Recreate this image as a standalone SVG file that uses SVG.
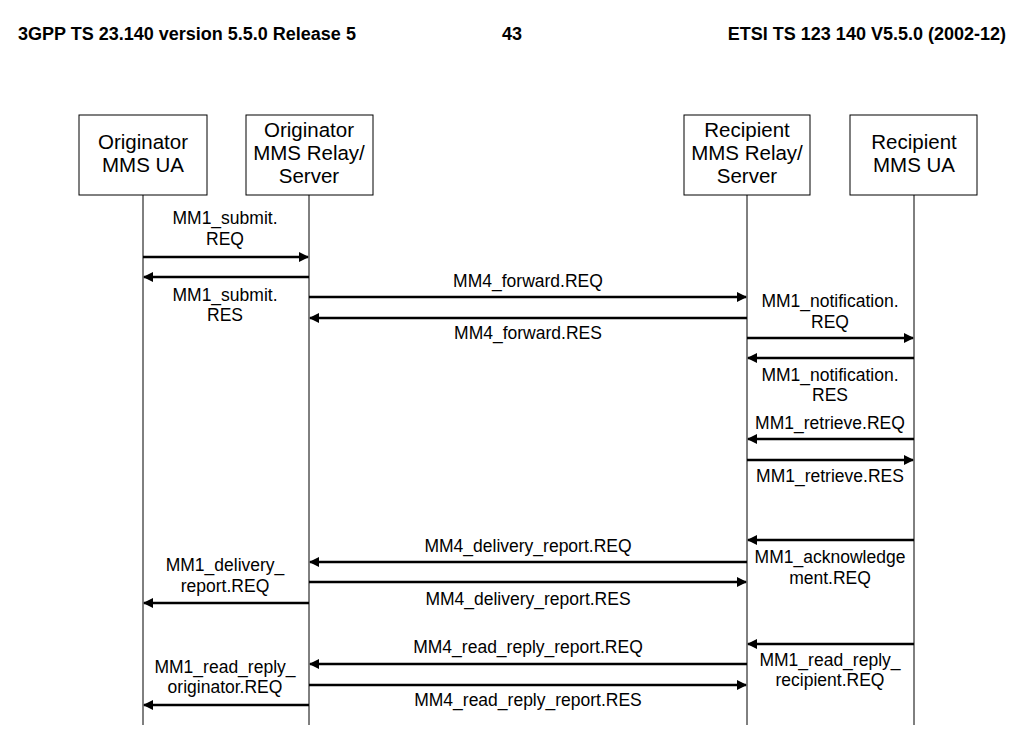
<svg xmlns="http://www.w3.org/2000/svg" width="1024" height="750" viewBox="0 0 1024 750">
<style>
.h{font:bold 18px "Liberation Sans",Arial,sans-serif}
.b{font:20.5px "Liberation Sans",Arial,sans-serif;text-anchor:middle}
.l{font:17.5px "Liberation Sans",Arial,sans-serif;text-anchor:middle}
rect{fill:#fff;stroke:#000;stroke-width:1}
.ll{stroke:#000;stroke-width:1}
.a{stroke:#000;stroke-width:2.5;marker-end:url(#ah)}
</style>
<defs><marker id="ah" markerWidth="10" markerHeight="10" refX="9" refY="5" orient="auto" markerUnits="userSpaceOnUse"><path d="M0,0L10,5L0,10z" fill="#000"/></marker></defs>
<rect width="1024" height="750" style="stroke:none"/>
<text class="h" x="18" y="40">3GPP TS 23.140 version 5.5.0 Release 5</text>
<text class="h" x="512" y="40" text-anchor="middle">43</text>
<text class="h" x="1006" y="40" text-anchor="end">ETSI TS 123 140 V5.5.0 (2002-12)</text>
<g id="n1"><rect x="79" y="115" width="128" height="80"/><text class="b" x="143" y="149">Originator</text><text class="b" x="143" y="172">MMS UA</text></g>
<g id="n2"><rect x="246" y="115" width="127" height="80"/><text class="b" x="309" y="137">Originator</text><text class="b" x="309" y="160">MMS Relay/</text><text class="b" x="309" y="183">Server</text></g>
<g id="n3"><rect x="684" y="115" width="126" height="80"/><text class="b" x="747" y="137">Recipient</text><text class="b" x="747" y="160">MMS Relay/</text><text class="b" x="747" y="183">Server</text></g>
<g id="n4"><rect x="850" y="115" width="127" height="80"/><text class="b" x="914" y="149">Recipient</text><text class="b" x="914" y="172">MMS UA</text></g>
<g id="connectors">
<line class="ll" x1="143" y1="195" x2="143" y2="725"/>
<line class="ll" x1="309" y1="195" x2="309" y2="725"/>
<line class="ll" x1="747" y1="195" x2="747" y2="725"/>
<line class="ll" x1="914" y1="195" x2="914" y2="725"/>
<line class="a" x1="143" y1="257" x2="308" y2="257"/>
<line class="a" x1="309" y1="277" x2="144" y2="277"/>
<line class="a" x1="309" y1="297" x2="746" y2="297"/>
<line class="a" x1="747" y1="318" x2="310" y2="318"/>
<line class="a" x1="747" y1="338" x2="913" y2="338"/>
<line class="a" x1="914" y1="358" x2="748" y2="358"/>
<line class="a" x1="914" y1="439" x2="748" y2="439"/>
<line class="a" x1="747" y1="460" x2="913" y2="460"/>
<line class="a" x1="914" y1="540" x2="748" y2="540"/>
<line class="a" x1="747" y1="562" x2="310" y2="562"/>
<line class="a" x1="309" y1="582" x2="746" y2="582"/>
<line class="a" x1="309" y1="603" x2="144" y2="603"/>
<line class="a" x1="914" y1="644" x2="748" y2="644"/>
<line class="a" x1="747" y1="664" x2="310" y2="664"/>
<line class="a" x1="309" y1="685" x2="746" y2="685"/>
<line class="a" x1="309" y1="705" x2="144" y2="705"/>
</g>
<g id="labels">
<text class="l" x="225" y="224">MM1_submit.</text><text class="l" x="225" y="245">REQ</text>
<text class="l" x="225" y="301">MM1_submit.</text><text class="l" x="225" y="321">RES</text>
<text class="l" x="528" y="287">MM4_forward.REQ</text>
<text class="l" x="528" y="339">MM4_forward.RES</text>
<text class="l" x="830" y="307">MM1_notification.</text><text class="l" x="830" y="328">REQ</text>
<text class="l" x="830" y="381">MM1_notification.</text><text class="l" x="830" y="401">RES</text>
<text class="l" x="830" y="429">MM1_retrieve.REQ</text>
<text class="l" x="830" y="482">MM1_retrieve.RES</text>
<text class="l" x="830" y="563">MM1_acknowledge</text><text class="l" x="830" y="584">ment.REQ</text>
<text class="l" x="528" y="552">MM4_delivery_report.REQ</text>
<text class="l" x="528" y="605">MM4_delivery_report.RES</text>
<text class="l" x="225" y="571">MM1_delivery_</text><text class="l" x="225" y="592">report.REQ</text>
<text class="l" x="830" y="666">MM1_read_reply_</text><text class="l" x="830" y="686">recipient.REQ</text>
<text class="l" x="528" y="653">MM4_read_reply_report.REQ</text>
<text class="l" x="528" y="706">MM4_read_reply_report.RES</text>
<text class="l" x="225" y="673">MM1_read_reply_</text><text class="l" x="225" y="693">originator.REQ</text>
</g>
</svg>
